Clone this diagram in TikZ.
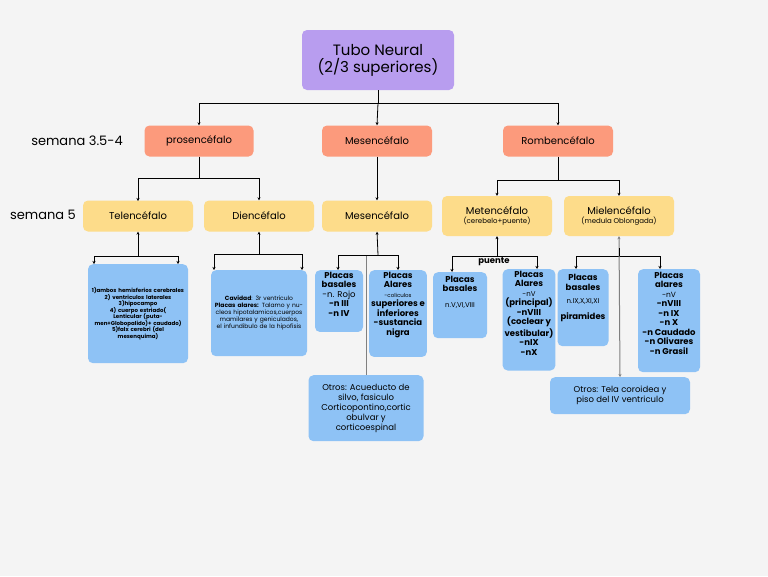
\documentclass[tikz,border=0pt]{standalone}
\usepackage{fontspec}
\setmainfont{Poppins}
\usetikzlibrary{positioning,arrows.meta}
\definecolor{bg}{HTML}{F4F4F4}
\definecolor{lila}{HTML}{B89DEF}
\definecolor{salmon}{HTML}{FC9A7C}
\definecolor{amarillo}{HTML}{FDDC8A}
\definecolor{azul}{HTML}{8EC2F5}
\newcommand{\tit}{\fontsize{8.5}{9.5}\selectfont\bfseries}
\newcommand{\chico}[1]{\fontsize{#1}{#1}\selectfont\mdseries}
\begin{document}
\begin{tikzpicture}[x=1pt,y=-1pt, >={Stealth[length=3pt,width=3pt]},
    caja/.style={rounded corners=5pt, align=center, inner sep=2pt, font=\fontsize{10}{12}\selectfont},
    rama/.style={draw, line width=0.8pt},
    gris/.style={draw=gray, line width=1pt}]
  \fill[bg] (0,0) rectangle (768,576);
  \useasboundingbox (0,0) rectangle (768,576);
  % niveles
  \node[caja, fill=lila, minimum width=152pt, minimum height=60pt, font=\fontsize{15}{17}\selectfont] (tubo) at (378,60) {Tubo Neural\\(2/3 superiores)};
  \node[caja, fill=salmon, minimum width=109pt, minimum height=31pt] (pros) at (199,141) {prosencéfalo};
  \node[caja, fill=salmon, minimum width=110pt, minimum height=31pt] (mes) at (377,141) {Mesencéfalo};
  \node[caja, fill=salmon, minimum width=110pt, minimum height=31pt] (romb) at (558,141) {Rombencéfalo};
  \node[font=\fontsize{13}{15}\selectfont] (s1) at (77,141) {semana 3.5-4};
  \node[font=\fontsize{13}{15}\selectfont] (s2) at (43,215) {semana 5};
  \node[caja, fill=amarillo, minimum width=110pt, minimum height=31pt] (tel) at (138,216) {Telencéfalo};
  \node[caja, fill=amarillo, minimum width=110pt, minimum height=31pt] (dien) at (259,216) {Diencéfalo};
  \node[caja, fill=amarillo, minimum width=110pt, minimum height=31pt] (mes2) at (377,216) {Mesencéfalo};
  \node[caja, fill=amarillo, minimum width=110pt, minimum height=40pt] (met) at (497,216) {Metencéfalo\\[-3pt]\chico{7}(cerebelo+puente)};
  \node[caja, fill=amarillo, minimum width=110pt, minimum height=40pt] (miel) at (619,216) {Mielencéfalo\\[-3pt]\chico{7}(medula Oblongada)};
  % cajas azules
  \node[caja, fill=azul, minimum width=100pt, minimum height=99pt, anchor=north, text width=94pt, font=\fontsize{5.5}{6.5}\selectfont\bfseries] (telb) at (138,264) {1)ambos hemisferios cerebrales\\2) ventriculos laterales\\3)hipocampo\\4) cuerpo estriado( Lenticular (putamen+Globopalido)+ caudado)\\5)falx cerebri (del mesenquima)\\[12pt]};
  \node[caja, fill=azul, minimum width=96pt, minimum height=86pt, anchor=north, text width=92pt, font=\fontsize{6}{7}\selectfont] (dienb) at (259,270) {\textbf{Cavidad}: 3r ventriculo\\\textbf{Placas alares:} Talamo y nucleos hipotalamicos,cuerpos mamilares y geniculados, el infundibulo de la hipofisis\\[18pt]};
  \node[caja, fill=azul, minimum width=48pt, minimum height=60pt, anchor=north, font=\tit] (mesbas) at (339,270) {Placas\\basales\\\chico{8.5}-n. Rojo\\-n III\\-n IV\\[4pt]};
  \node[caja, fill=azul, minimum width=48pt, minimum height=75pt, anchor=north, font=\tit] (mesal) at (398,270) {Placas\\Alares\\\chico{5.5}-coliculos\\superiores e\\inferiores\\-sustancia\\nigra\\[10pt]};
  \node[caja, fill=azul, minimum width=115pt, minimum height=66pt, anchor=north, font=\fontsize{8.5}{10}\selectfont] (mesotr) at (366,375) {Otros: Acueducto de\\silvo, fasiculo\\Corticopontino,cortic\\obulvar y\\corticoespinal};
  \node[caja, fill=azul, minimum width=54pt, minimum height=66pt, anchor=north, font=\tit] (puebas) at (460,272) {Placas\\basales\\[6pt]\chico{7}n.V,VI,VIII\\[18pt]};
  \node[caja, fill=azul, minimum width=45pt, minimum height=97pt, anchor=north, font=\tit] (pueal) at (529,269) {Placas\\Alares\\\chico{7}-nV\\(principal)\\-nVIII\\(coclear y\\vestibular)\\-nIX\\-nX\\[4pt]};
  \node[caja, fill=azul, minimum width=51pt, minimum height=77pt, anchor=north, font=\tit] (mielbas) at (583,269) {Placas\\basales\\[4pt]\chico{7}n.IX,X,XI,XI\\[6pt]piramides\\[12pt]};
  \node[caja, fill=azul, minimum width=62pt, minimum height=103pt, anchor=north, font=\tit] (mielal) at (669,269) {Placas\\alares\\\chico{7.5}-nV\\-nVIII\\-n IX\\-n X\\-n Caudado\\-n Olivares\\-n Grasil\\[6pt]};
  \node[caja, fill=azul, minimum width=140pt, minimum height=37pt, anchor=north, font=\fontsize{8.5}{10}\selectfont] (mielotr) at (620,377) {Otros: Tela coroidea y\\piso del IV ventriculo};
  % conectores
  \draw[rama] (tubo.south) -- (378,103);
  \draw[rama,->] (378,103) -| (pros.north);
  \draw[rama,->] (378,103) -- (mes.north);
  \draw[rama,->] (378,103) -| (romb.north);
  \draw[rama] (pros.south) -- (199,178);
  \draw[rama,->] (199,178) -| (138,201);
  \draw[rama,->] (199,178) -| (dien.north);
  \draw[rama,->] (mes.south) -- (mes2.north);
  \draw[rama] (romb.south) -- (558,180);
  \draw[rama,->] (558,180) -| (met.north);
  \draw[rama,->] (558,180) -| (miel.north);
  \draw[rama,<-] (tel.south) -- (138,256);
  \draw[rama,->] (94,256) -- (94,264); \draw[rama,->] (94,256) -- (178,256) -- (178,264);
  \draw[rama,<-] (dien.south) -- (259,254);
  \draw[rama,->] (214,254) -- (214,270); \draw[rama,->] (214,254) -- (302,254) -- (302,270);
  \draw[gris] (366,255) -- (mesotr.north);
  \draw[rama,<-] (mes2.south) -- (378,255);
  \draw[rama,->] (338,255) -- (338,270); \draw[rama,->] (338,255) -- (398,255) -- (398,270);
  \draw[rama,<-] (met.south) -- (497,256);
  \draw[rama,->] (452,256) -- (452,272); \draw[rama,->] (452,256) -- (537,256) -- (537,269);
  \node[font=\fontsize{8.5}{10}\selectfont\bfseries] (puente) at (494,262) {puente};
  \draw[rama,->] (576,256) -- (576,269); \draw[rama,->] (576,256) -- (660,256) -- (660,269);
  \draw[gris,<->] (miel.south) -- (mielotr.north);
  \draw[rama] (619,248) -- (619,256);
\end{tikzpicture}
\end{document}
